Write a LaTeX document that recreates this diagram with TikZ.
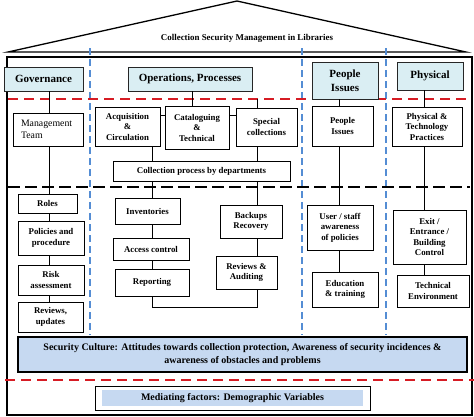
\documentclass[tikz,border=0pt]{standalone}
\usepackage{fontspec}
\setmainfont{Liberation Serif}
\definecolor{headblue}{RGB}{218,238,243}
\definecolor{cultblue}{RGB}{198,217,241}
\definecolor{lineblue}{RGB}{84,141,212}
\definecolor{linered}{RGB}{214,28,36}
\begin{document}
\begin{tikzpicture}[x=1pt,y=-1pt,
  hdr/.style={draw=black!85,fill=headblue,align=center,inner sep=1pt,font=\fontsize{11}{13.5}\selectfont\bfseries},
  cbox/.style={draw,fill=white,align=center,inner sep=1pt,font=\fontsize{8.8}{10.5}\selectfont\bfseries},
  wh/.style 2 args={minimum width=#1,minimum height=#2},
  reddash/.style={draw=linered,line width=1.6pt,dash pattern=on 10pt off 6pt},
  blkdash/.style={line width=1.6pt,dash pattern=on 12pt off 5pt},
  bluedash/.style={draw=lineblue,line width=1.5pt,dash pattern=on 7pt off 4pt}]
\useasboundingbox (0,0) rectangle (474,416);
% roof and walls
\draw[line width=1.3pt] (8,52) -- (237,1) -- (466,52) -- cycle;
\draw[line width=1.3pt] (7,57) rectangle (472,415);
\node[font=\fontsize{8.9}{10}\selectfont\bfseries] (title) at (247,38) {Collection Security Management in Libraries};
% pillars and floors
\foreach \x in {90,302,386} \draw[bluedash] (\x,48) -- (\x,335);
\draw[reddash] (8,99) -- (466,99);
\draw[blkdash] (8,187) -- (470,187);
\draw[reddash] (5,380) -- (474,380);
% headers
\node[hdr,wh={79}{24}] (gov) at (43.5,79) {Governance};
\node[hdr,wh={124}{24}] (ops) at (190,79) {Operations, Processes};
\node[hdr,wh={66}{37}] (ppl) at (345,80.5) {People\\Issues};
\node[hdr,wh={66}{28}] (phy) at (430,76) {Physical};
% governance column
\node[draw,fill=white,wh={70}{33},align=left,text width=54pt,inner sep=0pt,font=\fontsize{9.8}{11.5}\selectfont] (mgmt) at (48,129.5) {Management\\Team};
\node[cbox,wh={59}{19}] (roles) at (47.5,203.5) {Roles};
\node[cbox,wh={66}{34}] (pol) at (51,238) {Policies and\\procedure};
\node[cbox,wh={66}{30}] (risk) at (51,280) {Risk\\assessment};
\node[cbox,wh={65}{30}] (rev) at (50.5,317) {Reviews,\\updates};
% operations column
\node[cbox,wh={65}{39}] (acq) at (127.5,126.5) {Acquisition\\\&\\Circulation};
\node[cbox,wh={64}{43}] (cat) at (197,127.5) {Cataloguing\\\&\\Technical};
\node[cbox,wh={61}{38}] (spec) at (266.5,127) {Special\\collections};
\node[cbox,wh={177}{20}] (cpd) at (201.5,171) {Collection process by departments};
\node[cbox,wh={65}{26}] (inv) at (147.5,211) {Inventories};
\node[cbox,wh={76}{22}] (acc) at (151,249) {Access control};
\node[cbox,wh={74}{27}] (rep) at (152,282.5) {Reporting};
\node[cbox,wh={62}{33}] (bak) at (251,221.5) {Backups\\Recovery};
\node[cbox,wh={61}{33}] (raud) at (246.5,272.5) {Reviews \&\\Auditing};
% people column
\node[cbox,wh={61}{40}] (pi) at (342.5,126) {People\\Issues};
\node[cbox,wh={66}{45}] (usr) at (340,227.5) {User / staff\\awareness\\of policies};
\node[cbox,wh={66}{35}] (edu) at (345,289.5) {Education\\\& training};
% physical column
\node[cbox,wh={70}{39}] (ptp) at (427,126.5) {Physical \&\\Technology\\Practices};
\node[cbox,wh={73}{54}] (exit) at (429.5,237) {Exit /\\Entrance /\\Building\\Control};
\node[cbox,wh={72}{32}] (tech) at (433,291) {Technical\\Environment};
% base
\node[cbox,wh={449}{35},fill=cultblue,line width=1.1pt,font=\fontsize{10}{12.5}\selectfont\bfseries] (cult) at (242.5,354.5)
  {Security Culture: Attitudes towards collection protection, Awareness of security incidences \&\\awareness of obstacles and problems};
\node[draw,fill=white,line width=0.8pt,wh={275}{24}] (medbox) at (232.5,398) {};
\node[fill=cultblue,inner sep=0pt,wh={261}{16},font=\fontsize{10}{12}\selectfont\bfseries] (med) at (medbox) {Mediating factors: Demographic Variables};
% connectors
\coordinate (gx) at (49,0);
\coordinate (ox) at (192,0);
\coordinate (ax) at (152,0);
\coordinate (sx) at (257,99);
\coordinate (px) at (339,0);
\coordinate (fx) at (424,0);
\coordinate (hy) at (0,115);
\coordinate (lp) at (0,307);
\foreach \a/\b in {gov/mgmt,mgmt/roles,roles/pol,pol/risk,risk/rev}
  \draw (\a.south -| gx) -- (\b.north -| gx);
\draw (ops.south -| ox) -- (cat.north -| ox);
\draw (sx) -- (spec.north -| sx);
\draw (acq.east |- hy) -- (cat.west |- hy);
\draw (cat.east |- hy) -- (spec.west |- hy);
\foreach \a/\b in {acq/cpd,cpd/inv,inv/acc,acc/rep}
  \draw (\a.south -| ax) -- (\b.north -| ax);
\foreach \a/\b in {spec/cpd,cpd/bak,bak/raud}
  \draw (\a.south -| sx) -- (\b.north -| sx);
\draw (rep.south -| ax) -- (lp -| ax) -- (lp -| sx) -- (raud.south -| sx);
\foreach \a/\b in {ppl/pi,pi/usr,usr/edu}
  \draw (\a.south -| px) -- (\b.north -| px);
\foreach \a/\b in {phy/ptp,ptp/exit,exit/tech}
  \draw (\a.south -| fx) -- (\b.north -| fx);
\end{tikzpicture}
\end{document}
